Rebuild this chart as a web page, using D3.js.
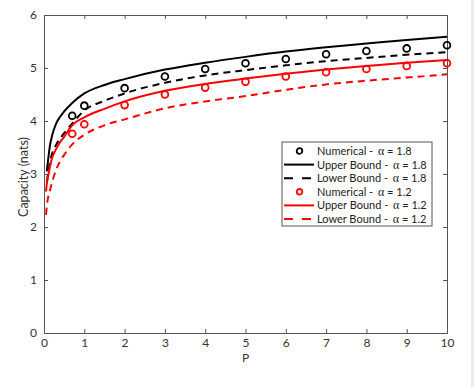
<!DOCTYPE html>
<html>
<head>
<meta charset="utf-8">
<script src="https://cdn.jsdelivr.net/npm/d3@7"></script>
<style>
  body { margin: 0; background: #fff; }
  svg text { font-family: Lato, "Open Sans", sans-serif; }
</style>
</head>
<body>
<div id="chart"></div>
<script>
// values
const pNum = [0.7, 1, 2, 3, 4, 5, 6, 7, 8, 9, 10];
const num18 = [4.10, 4.29, 4.62, 4.84, 4.98, 5.09, 5.17, 5.26, 5.32, 5.37, 5.43];
const num12 = [3.76, 3.94, 4.30, 4.50, 4.63, 4.74, 4.84, 4.92, 4.98, 5.04, 5.09];

const pCurve  = [0.05, 0.07, 0.1, 0.15, 0.2, 0.3, 0.4, 0.5, 0.7, 1, 1.5, 2, 3, 4, 5, 6, 7, 8, 9, 10];
const upper18 = [null, 3.05, 3.25, 3.55, 3.72, 3.95, 4.08, 4.18, 4.34, 4.52, 4.68, 4.79, 4.97, 5.10, 5.21, 5.31, 5.39, 5.46, 5.53, 5.59];
const lower18 = [null, 2.85, 3.00, 3.22, 3.38, 3.55, 3.67, 3.77, 3.95, 4.20, 4.38, 4.52, 4.72, 4.86, 4.96, 5.05, 5.13, 5.19, 5.25, 5.30];
const upper12 = [2.67, 2.82, 2.95, 3.14, 3.30, 3.47, 3.60, 3.70, 3.92, 4.07, 4.23, 4.37, 4.57, 4.70, 4.80, 4.89, 4.97, 5.04, 5.10, 5.15];
const lower12 = [2.23, 2.40, 2.55, 2.70, 2.84, 3.08, 3.24, 3.36, 3.56, 3.74, 3.92, 4.03, 4.24, 4.37, 4.47, 4.59, 4.69, 4.76, 4.82, 4.88];

const xTicks = [0, 1, 2, 3, 4, 5, 6, 7, 8, 9, 10];
const yTicks = [0, 1, 2, 3, 4, 5, 6];

const legendItems = [
  { label: "Numerical - ", alpha: "1.8", color: "#000", type: "circle" },
  { label: "Upper Bound - ", alpha: "1.8", color: "#000", type: "solid" },
  { label: "Lower Bound - ", alpha: "1.8", color: "#000", type: "dash" },
  { label: "Numerical - ", alpha: "1.2", color: "#ff0000", type: "circle" },
  { label: "Upper Bound - ", alpha: "1.2", color: "#ff0000", type: "solid" },
  { label: "Lower Bound - ", alpha: "1.2", color: "#ff0000", type: "dash" }
];

const width = 474, height = 387;
const margin = { left: 44, right: 27, top: 15, bottom: 54 };
const axisColor = "#555";
const dashArr = "7,5";

const svg = d3.select("#chart").append("svg")
  .attr("width", width)
  .attr("height", height);

// light strip at the right edge of the original image
svg.append("rect")
  .attr("x", 471).attr("y", 0)
  .attr("width", 3).attr("height", height)
  .attr("fill", "#ececec");

const x = d3.scaleLinear().domain([0, 10]).range([margin.left, width - margin.right]);
const y = d3.scaleLinear().domain([0, 6]).range([height - margin.bottom, margin.top]);

// axes (inward ticks, box on)
const gx = svg.append("g")
  .attr("transform", `translate(0,${y(0)})`)
  .call(d3.axisBottom(x).tickValues(xTicks).tickSize(-4).tickPadding(5).tickFormat(d3.format("d")));
const gxTop = svg.append("g")
  .attr("transform", `translate(0,${y(6)})`)
  .call(d3.axisTop(x).tickValues(xTicks).tickSize(-4).tickFormat(""));
const gy = svg.append("g")
  .attr("transform", `translate(${x(0)},0)`)
  .call(d3.axisLeft(y).tickValues(yTicks).tickSize(-4).tickPadding(7).tickFormat(d3.format("d")));
const gyRight = svg.append("g")
  .attr("transform", `translate(${x(10)},0)`)
  .call(d3.axisRight(y).tickValues(yTicks).tickSize(-4).tickFormat(""));

[gx, gxTop, gy, gyRight].forEach(g => {
  g.select(".domain").attr("stroke", axisColor).attr("stroke-width", 1);
  g.selectAll(".tick line").attr("stroke", axisColor);
  g.selectAll("text").attr("fill", "#333").style("font-size", "12px");
});

// axis labels
svg.append("text")
  .attr("x", x(5)).attr("y", 362)
  .attr("text-anchor", "middle")
  .attr("fill", "#333")
  .style("font-size", "12px")
  .text("P");

svg.append("text")
  .attr("transform", `translate(28,${(y(0) + y(6)) / 2 + 3}) rotate(-90)`)
  .attr("text-anchor", "middle")
  .attr("fill", "#333")
  .style("font-size", "12.5px")
  .text("Capacity (nats)");

// curves
const line = d3.line()
  .defined(d => d[1] !== null)
  .x(d => x(d[0]))
  .y(d => y(d[1]))
  .curve(d3.curveMonotoneX);

const curves = [
  { vals: upper18, color: "#000", dash: null },
  { vals: lower18, color: "#000", dash: dashArr },
  { vals: upper12, color: "#ff0000", dash: null },
  { vals: lower12, color: "#ff0000", dash: dashArr }
];

curves.forEach(c => {
  svg.append("path")
    .datum(pCurve.map((p, i) => [p, c.vals[i]]))
    .attr("d", line)
    .attr("fill", "none")
    .attr("stroke", c.color)
    .attr("stroke-width", 2)
    .attr("stroke-dasharray", c.dash);
});

// numerical points
[{ vals: num18, color: "#000" }, { vals: num12, color: "#ff0000" }].forEach(s => {
  svg.append("g").selectAll("circle")
    .data(pNum.map((p, i) => [p, s.vals[i]]))
    .enter().append("circle")
    .attr("cx", d => x(d[0]))
    .attr("cy", d => y(d[1]))
    .attr("r", 3.4)
    .attr("fill", "none")
    .attr("stroke", s.color)
    .attr("stroke-width", 1.8);
});

// legend
const lg = svg.append("g").attr("transform", "translate(282,142)");
lg.append("rect")
  .attr("width", 150).attr("height", 84)
  .attr("fill", "#fff")
  .attr("stroke", axisColor)
  .attr("stroke-width", 1);

legendItems.forEach((it, i) => {
  const row = lg.append("g").attr("transform", `translate(0,${9 + i * 13.6})`);
  if (it.type === "circle") {
    row.append("circle")
      .attr("cx", 17.5).attr("cy", 0).attr("r", 2.8)
      .attr("fill", "none").attr("stroke", it.color).attr("stroke-width", 1.8);
  } else {
    row.append("line")
      .attr("x1", 2).attr("x2", 32).attr("y1", 0).attr("y2", 0)
      .attr("stroke", it.color).attr("stroke-width", 2)
      .attr("stroke-dasharray", it.type === "dash" ? "9,9" : null);
  }
  const t = row.append("text")
    .attr("x", 35).attr("y", 4)
    .attr("fill", "#222")
    .style("font-size", "11px");
  t.append("tspan").text(it.label);
  t.append("tspan")
    .attr("dx", 2)
    .style("font-family", "'Liberation Serif', 'DejaVu Serif', serif")
    .style("font-size", "12px")
    .text("α");
  t.append("tspan").text(" = " + it.alpha);
});
</script>
</body>
</html>
